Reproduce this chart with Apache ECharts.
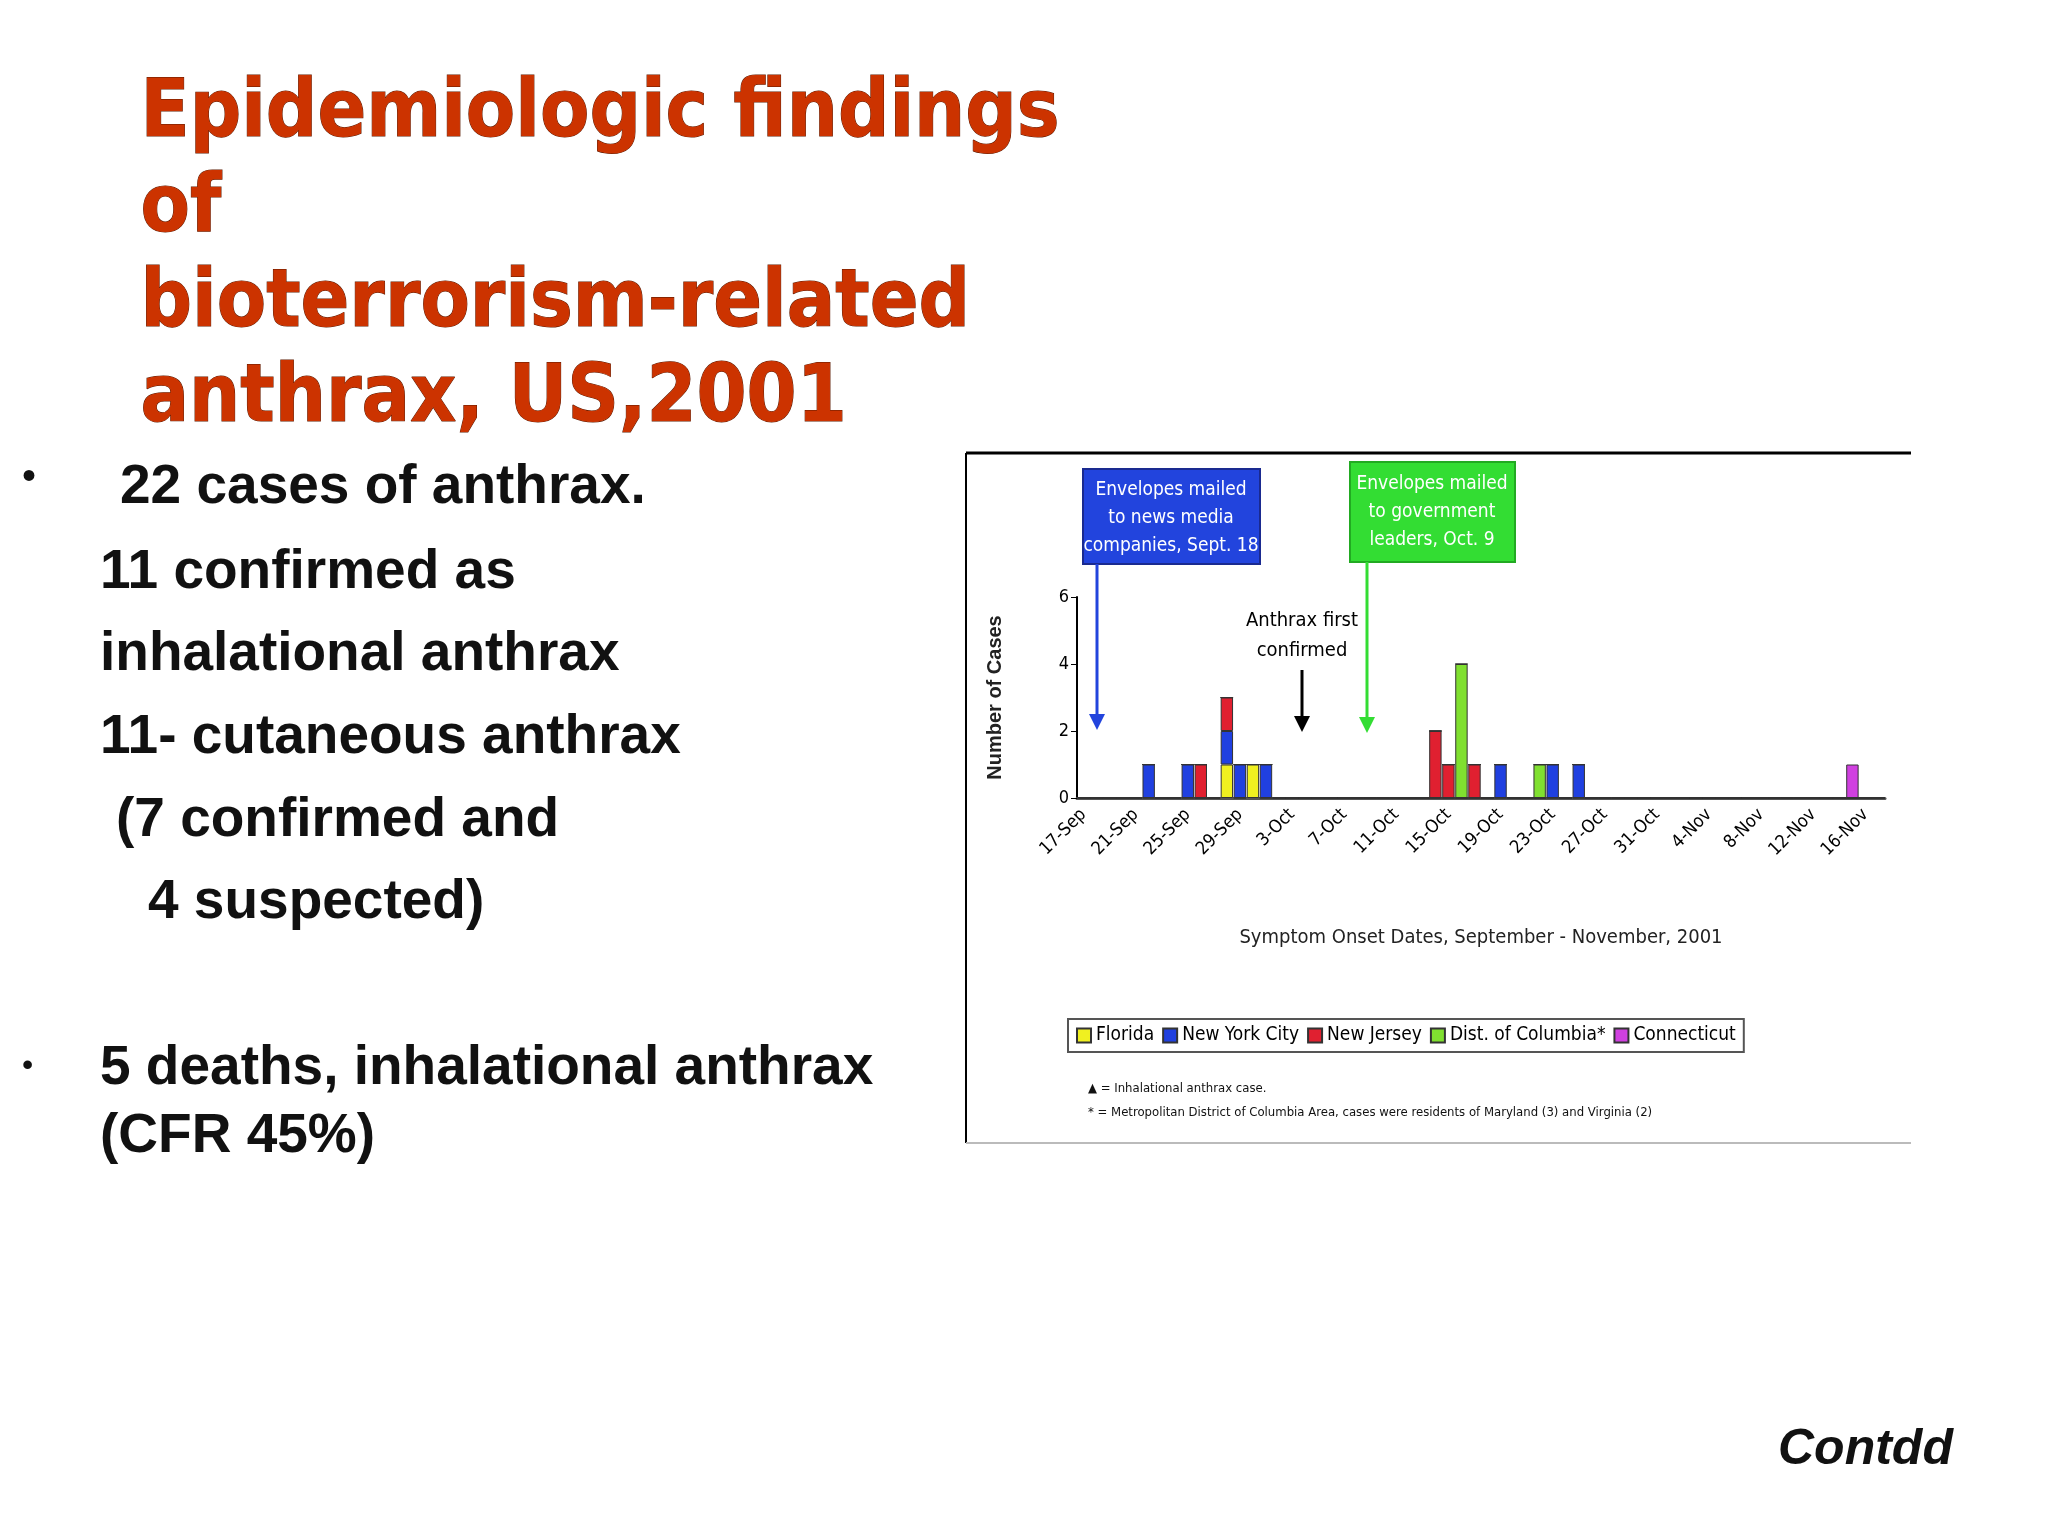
<!DOCTYPE html>
<html><head><meta charset="utf-8">
<script src="https://cdn.jsdelivr.net/npm/echarts@6/dist/echarts.min.js"></script>
<style>html,body{margin:0;background:#fff}#c{width:2048px;height:1536px}</style></head>
<body><div id="c"></div>
<script>
const months=[['Sep',17,30],['Oct',1,31],['Nov',1,17]];
const categories=[];
for(const [m,a,b] of months){for(let d=a;d<=b;d++)categories.push(d+'-'+m);}
// cases by onset date
const florida   ={'28-Sep':1,'30-Sep':1};
const newYork   ={'22-Sep':1,'25-Sep':1,'28-Sep':1,'29-Sep':1,'1-Oct':1,'19-Oct':1,'23-Oct':1,'25-Oct':1};
const newJersey ={'26-Sep':1,'28-Sep':1,'14-Oct':2,'15-Oct':1,'17-Oct':1};
const dc        ={'16-Oct':4,'22-Oct':1};
const connecticut={'15-Nov':1};
const seriesDefs=[['Florida',florida,'#f0f020'],['New York City',newYork,'#2040e0'],['New Jersey',newJersey,'#e02030'],['Dist. of Columbia*',dc,'#80e030'],['Connecticut',connecticut,'#d040e0']];
const yTicks=[0,2,4,6];
const NF='"DejaVu Sans Condensed"';
const chart=echarts.init(document.getElementById('c'));
const txt=(x,y,t,s)=>({type:'text',left:x,top:y,style:Object.assign({text:t,fill:'#111',font:'bold 55px "Liberation Sans"'},s||{})});
const arrow=(x,y1,y2,c)=>[{type:'line',shape:{x1:x,y1:y1,x2:x,y2:y2-10},style:{stroke:c,lineWidth:3}},
 {type:'polygon',shape:{points:[[x-8,y2-16],[x+8,y2-16],[x,y2]]},style:{fill:c}}];
chart.setOption({
 animation:false,
 grid:{left:1077,top:597,width:808,height:201},
 xAxis:{type:'category',data:categories,boundaryGap:true,
  axisLine:{lineStyle:{color:'#555',width:3}},
  axisTick:{interval:3,length:8,lineStyle:{color:'#000',width:2}},
  axisLabel:{interval:3,rotate:45,color:'#000',fontSize:18,fontFamily:NF,margin:14},
  name:'Symptom Onset Dates, September - November, 2001',nameLocation:'middle',nameGap:130,
  nameTextStyle:{fontSize:20,color:'#222',fontFamily:NF}},
 yAxis:{type:'value',min:0,max:6,interval:2,splitLine:{show:false},
  axisLine:{show:true,lineStyle:{color:'#000',width:2}},axisTick:{show:true,length:6},
  axisLabel:{color:'#000',fontSize:18,fontFamily:NF,formatter:v=>yTicks.includes(v)?v:''},
  name:'Number of Cases',nameLocation:'middle',nameGap:72,nameRotate:90,
  nameTextStyle:{fontSize:20,fontWeight:'bold',color:'#222'}},
 legend:{left:1068,top:1019,width:690,itemWidth:14,itemHeight:14,itemGap:8,
  borderColor:'#555',borderWidth:2,padding:[7,8],icon:'rect',
  textStyle:{fontSize:19,color:'#000',fontFamily:NF}},
 series:seriesDefs.map(([n,obj,c])=>({name:n,type:'bar',stack:'a',barCategoryGap:'5%',
  itemStyle:{color:c,borderColor:'#333',borderWidth:1},
  data:categories.map(k=>obj[k]||0)})),
 graphic:[
  txt(140,68,'Epidemiologic findings\nof\nbioterrorism-related\nanthrax, US,2001',
    {fill:'#cc3300',font:'bold 80px '+NF,lineHeight:95,stroke:'#5a1a00',lineWidth:1,
     shadowColor:'rgba(60,20,0,0.9)',shadowOffsetX:4,shadowOffsetY:4,shadowBlur:0}),
  txt(22,458,'•',{font:'40px "Liberation Sans"'}),
  txt(120,460,'22 cases of anthrax.'),
  txt(100,545,'11 confirmed as'),
  txt(100,627,'inhalational anthrax'),
  txt(100,710,'11- cutaneous anthrax'),
  txt(116,793,'(7 confirmed and'),
  txt(148,875,'4 suspected)'),
  txt(22,1050,'•',{font:'32px "Liberation Sans"'}),
  txt(100,1041,'5 deaths, inhalational anthrax'),
  txt(100,1109,'(CFR 45%)'),
  txt(1778,1425,'Contdd',{font:'italic bold 50px "Liberation Sans"'}),
  {type:'line',shape:{x1:966,y1:453,x2:1911,y2:453},style:{stroke:'#000',lineWidth:3}},
  {type:'line',shape:{x1:966,y1:453,x2:966,y2:1143},style:{stroke:'#000',lineWidth:2}},
  {type:'line',shape:{x1:966,y1:1143,x2:1911,y2:1143},style:{stroke:'#bbb',lineWidth:2}},
  {type:'rect',shape:{x:1083,y:469,width:177,height:95},style:{fill:'#2244dd',stroke:'#1a2a90',lineWidth:2}},
  {type:'text',x:1171,y:476,style:{text:'Envelopes mailed\nto news media\ncompanies, Sept. 18',fill:'#fff',font:'19px '+NF,lineHeight:28,align:'center'}},
  {type:'rect',shape:{x:1350,y:462,width:165,height:100},style:{fill:'#33dd33',stroke:'#22aa22',lineWidth:2}},
  {type:'text',x:1432,y:470,style:{text:'Envelopes mailed\nto government\nleaders, Oct. 9',fill:'#fff',font:'19px '+NF,lineHeight:28,align:'center'}},
  ...arrow(1097,564,730,'#2244dd'),
  ...arrow(1367,562,733,'#33dd33'),
  {type:'text',x:1302,y:606,style:{text:'Anthrax first\nconfirmed',fill:'#000',font:'20px '+NF,lineHeight:30,align:'center'}},
  ...arrow(1302,670,732,'#000'),
  txt(1088,1082,'▲ = Inhalational anthrax case.',{font:'13px '+NF}),
  txt(1088,1106,'* = Metropolitan District of Columbia Area, cases were residents of Maryland (3) and Virginia (2)',{font:'13px '+NF})
 ]
});
</script></body></html>
